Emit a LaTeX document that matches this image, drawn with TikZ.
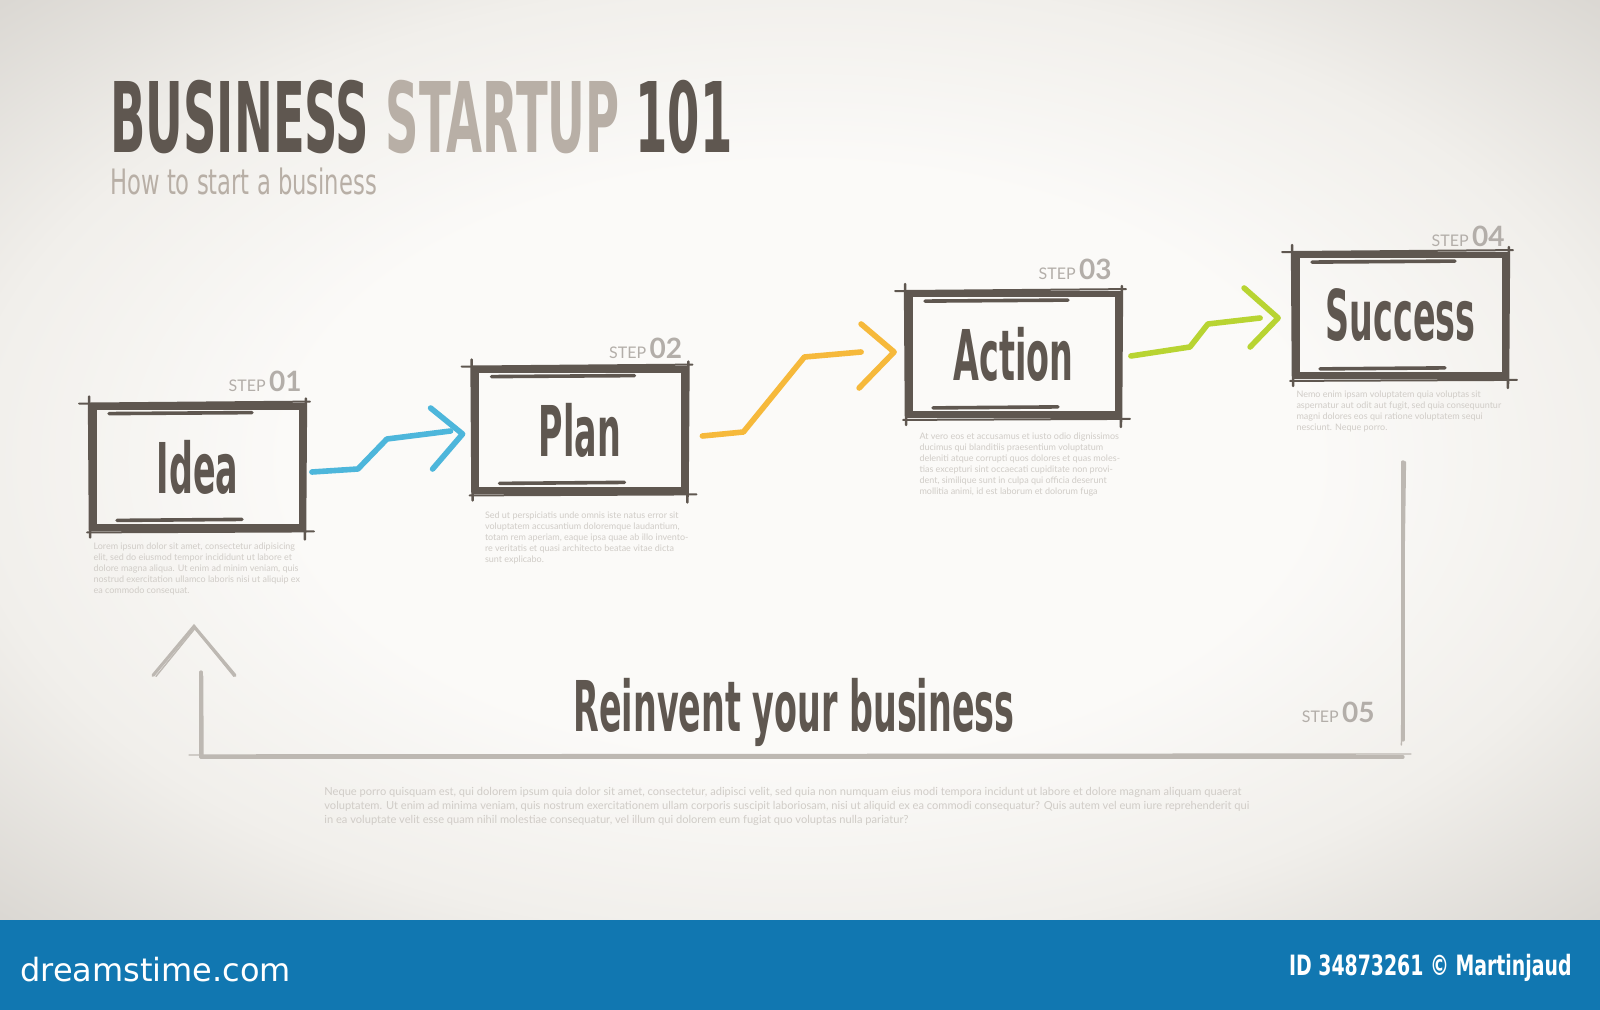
\documentclass[tikz,border=0pt]{standalone}
\usepackage{fontspec}
\setmainfont{Lato}
\newfontfamily\headfont[FakeStretch=0.53]{DejaVu Sans Condensed Bold}
\newfontfamily\thinhead[FakeStretch=0.72]{DejaVu Sans Condensed}
\newfontfamily\footfont[FakeStretch=0.75]{DejaVu Sans Condensed Bold}
\newfontfamily\dreamfont{DejaVu Sans}
\usetikzlibrary{positioning}

\definecolor{boxc}{HTML}{5F5750}
\definecolor{taupe}{HTML}{B8AFA6}
\definecolor{stepc}{HTML}{B3AEA9}
\definecolor{loremc}{HTML}{D0CCC7}
\definecolor{loopc}{HTML}{BDB8B2}
\definecolor{ideablue}{HTML}{4DB6DB}
\definecolor{planyellow}{HTML}{F6B93B}
\definecolor{actgreen}{HTML}{B8D432}
\definecolor{barblue}{HTML}{1177B1}
\definecolor{bgin}{HTML}{FBFAF8}
\definecolor{bgmid}{HTML}{F1EFEB}
\definecolor{bgout}{HTML}{D9D6D1}

\pgfdeclareradialshading{vignette}{\pgfpoint{0bp}{0bp}}{color(0bp)=(bgin); color(16bp)=(bgin); color(26bp)=(bgmid); color(36bp)=(bgout); color(50bp)=(bgout)}

\tikzset{
  stepbox/.style={minimum width=104pt, minimum height=60pt, inner sep=0pt, text=boxc, font=\headfont\fontsize{35}{35}\selectfont},
  boxline/.style={draw=boxc, line width=3.4pt},
  roughline/.style={draw=boxc, line width=1pt, line cap=round},
  steplabel/.style={anchor=south east, inner sep=0pt, text=stepc},
  lorem/.style={anchor=north west, inner sep=0pt, align=left, text=loremc, font=\fontsize{4.5}{5.5}\selectfont},
  sketcharrow/.style={line width=2.8pt, line cap=round, line join=round},
  loopline/.style={draw=loopc, line width=1.6pt, line cap=round},
}

\newcommand{\steptag}[1]{{\fontsize{8}{8}\selectfont STEP}\,{\fontsize{14}{14}\selectfont\bfseries #1}}

% hand drawn frame round a step node
\newcommand{\roughbox}[1]{%
  \draw[boxline] (#1.north west) rectangle (#1.south east);
  \draw[roughline] ([shift={(-7pt,1.5pt)}]#1.north west) -- ([shift={(4pt,2.5pt)}]#1.north east);
  \draw[roughline, line width=1.8pt] ([shift={(8pt,-3.5pt)}]#1.north west) -- ([shift={(-25pt,-3pt)}]#1.north east);
  \draw[roughline] ([shift={(-3pt,-2.5pt)}]#1.south west) -- ([shift={(6pt,-2pt)}]#1.south east);
  \draw[roughline, line width=1.8pt] ([shift={(12pt,3.5pt)}]#1.south west) -- ([shift={(-30pt,4pt)}]#1.south east);
  \draw[roughline, line width=1.3pt] ([shift={(-2pt,5pt)}]#1.north west) -- ([shift={(-1.5pt,-5pt)}]#1.south west);
  \draw[roughline, line width=1.3pt] ([shift={(2pt,4pt)}]#1.north east) -- ([shift={(1.5pt,-6pt)}]#1.south east);
}

\begin{document}
\begin{tikzpicture}[x=0.5pt, y=-0.5pt]
  \useasboundingbox (0,0) rectangle (1600,1010);
  \shade[shading=vignette] (0,0) rectangle (1600,920);
  \fill[barblue] (0,920) rectangle (1600,1010);

  % title
  \node[anchor=base west, inner sep=0pt, text depth=0pt, font=\headfont\fontsize{48.7}{50}\selectfont] (title) at (110,153)
    {\textcolor{boxc}{BUSINESS} \textcolor{taupe}{STARTUP} \textcolor{boxc}{101}};
  \node[anchor=base west, inner sep=0pt, font=\thinhead\fontsize{17.5}{18}\selectfont, text=taupe] (subtitle) at (110,195) {How to start a business};

  % steps
  \node[stepbox] (idea) at (197.5,467) {Idea};
  \node[stepbox] (plan) at (580,430) {Plan};
  \node[stepbox] (action) at (1013.5,354.5) {Action};
  \node[stepbox] (success) at (1400.5,315.5) {Success};
  \foreach \b in {idea,plan,action,success} {\roughbox{\b}}

  \node[steplabel] (step1) at ([yshift=7pt]idea.north east) {\steptag{01}};
  \node[steplabel] (step2) at ([shift={(-1pt,5pt)}]plan.north east) {\steptag{02}};
  \node[steplabel] (step3) at ([shift={(-3pt,7pt)}]action.north east) {\steptag{03}};
  \node[steplabel] (step4) at ([yshift=4pt]success.north east) {\steptag{04}};

  % texts under the steps
  \node[lorem] (ideatext) at ([yshift=-7.5pt]idea.south west) {Lorem ipsum dolor sit amet, consectetur adipisicing\\elit, sed do eiusmod tempor incididunt ut labore et\\dolore magna aliqua. Ut enim ad minim veniam, quis\\nostrud exercitation ullamco laboris nisi ut aliquip ex\\ea commodo consequat.};
  \node[lorem] (plantext) at ([shift={(4.5pt,-10.5pt)}]plan.south west) {Sed ut perspiciatis unde omnis iste natus error sit\\voluptatem accusantium doloremque laudantium,\\totam rem aperiam, eaque ipsa quae ab illo invento-\\re veritatis et quasi architecto beatae vitae dicta\\sunt explicabo.};
  \node[lorem] (actiontext) at ([shift={(5pt,-9pt)}]action.south west) {At vero eos et accusamus et iusto odio dignissimos\\ducimus qui blanditiis praesentium voluptatum\\deleniti atque corrupti quos dolores et quas moles-\\tias excepturi sint occaecati cupiditate non provi-\\dent, similique sunt in culpa qui officia deserunt\\mollitia animi, id est laborum et dolorum fuga};
  \node[lorem] (successtext) at ([yshift=-7.5pt]success.south west) {Nemo enim ipsam voluptatem quia voluptas sit\\aspernatur aut odit aut fugit, sed quia consequuntur\\magni dolores eos qui ratione voluptatem sequi\\nesciunt. Neque porro.};

  % arrows between the steps
  \coordinate (b0) at ([shift={(5pt,-2.5pt)}]idea.east);
  \coordinate (btip) at ([shift={(-6.5pt,-2pt)}]plan.west);
  \draw[sketcharrow, ideablue] (b0) -- ++(46,-3) -- ++(29,-30) -- ([shift={(-6pt,1.5pt)}]btip);
  \draw[sketcharrow, ideablue] (btip) ++(-32,-26) -- (btip) -- ++(-30,35);

  \coordinate (y0) at ([shift={(9pt,-3pt)}]plan.east);
  \coordinate (ytip) at ([shift={(-7.5pt,1.25pt)}]action.west);
  \draw[sketcharrow, planyellow] (y0) -- ++(41,-4) -- ++(61,-75) -- ([xshift=-16.5pt]ytip);
  \draw[sketcharrow, planyellow] (ytip) ++(-33,-28) -- (ytip) -- ++(-35,36);

  \coordinate (g0) at ([shift={(6.5pt,-0.75pt)}]action.east);
  \coordinate (gtip) at ([shift={(-9pt,-1.25pt)}]success.west);
  \draw[sketcharrow, actgreen] (g0) -- ++(59,-9) -- ++(18,-23) -- ([xshift=-9pt]gtip);
  \draw[sketcharrow, actgreen] (gtip) ++(-34,-30) -- (gtip) -- ++(-28,29);

  % loop back to the idea
  \coordinate (looptop) at ([shift={(1.25pt,-43pt)}]success.south);
  \coordinate (loopbr) at (1403,757);
  \coordinate (loopbl) at (201,757);
  \coordinate (reinvtip) at ([shift={(-1.75pt,-49.5pt)}]idea.south);
  \draw[loopline] (looptop) -- (loopbr |- 0,740);
  \draw[loopline, line width=0.7pt] ([xshift=1.2pt]looptop) -- ([xshift=-0.8pt]loopbr |- 0,745);
  \draw[loopline] (loopbr) -- (loopbl);
  \draw[loopline, line width=0.7pt] ([shift={(4pt,1.5pt)}]loopbr) -- ([shift={(-6pt,1pt)}]loopbl);
  \draw[loopline] (loopbl) -- (loopbl |- 0,672);
  \draw[loopline, line width=0.7pt] ([xshift=1pt]loopbl) -- ([xshift=0.8pt]loopbl |- 0,676);
  \draw[loopline] (reinvtip) ++(-41,49) -- (reinvtip) -- ++(41,49);
  \draw[loopline, line width=0.7pt] (reinvtip) ++(-38,50) -- ([shift={(0.5pt,-1pt)}]reinvtip) -- ++(39,48);

  \node[anchor=base, inner sep=0pt, text=boxc, font=\headfont\fontsize{35}{36}\selectfont] (reinvent) at (794,731) {Reinvent your business};
  \node[anchor=base east, inner sep=0pt, text=stepc] (step5) at (1375,722) {\steptag{05}};
  \node[anchor=north west, inner sep=0pt, align=left, text=loremc, font=\fontsize{5.55}{7}\selectfont] (bottomtext) at (324,787) {Neque porro quisquam est, qui dolorem ipsum quia dolor sit amet, consectetur, adipisci velit, sed quia non numquam eius modi tempora incidunt ut labore et dolore magnam aliquam quaerat\\voluptatem. Ut enim ad minima veniam, quis nostrum exercitationem ullam corporis suscipit laboriosam, nisi ut aliquid ex ea commodi consequatur? Quis autem vel eum iure reprehenderit qui\\in ea voluptate velit esse quam nihil molestiae consequatur, vel illum qui dolorem eum fugiat quo voluptas nulla pariatur?};

  % footer bar
  \node[anchor=base west, inner sep=0pt, text=white, font=\dreamfont\fontsize{16}{16}\selectfont] (dreams) at (20,981) {dreamstime.com};
  \node[anchor=base east, inner sep=0pt, text=white, font=\footfont\fontsize{14}{14}\selectfont] (imageid) at (1572,975) {ID 34873261 © Martinjaud};
\end{tikzpicture}
\end{document}
